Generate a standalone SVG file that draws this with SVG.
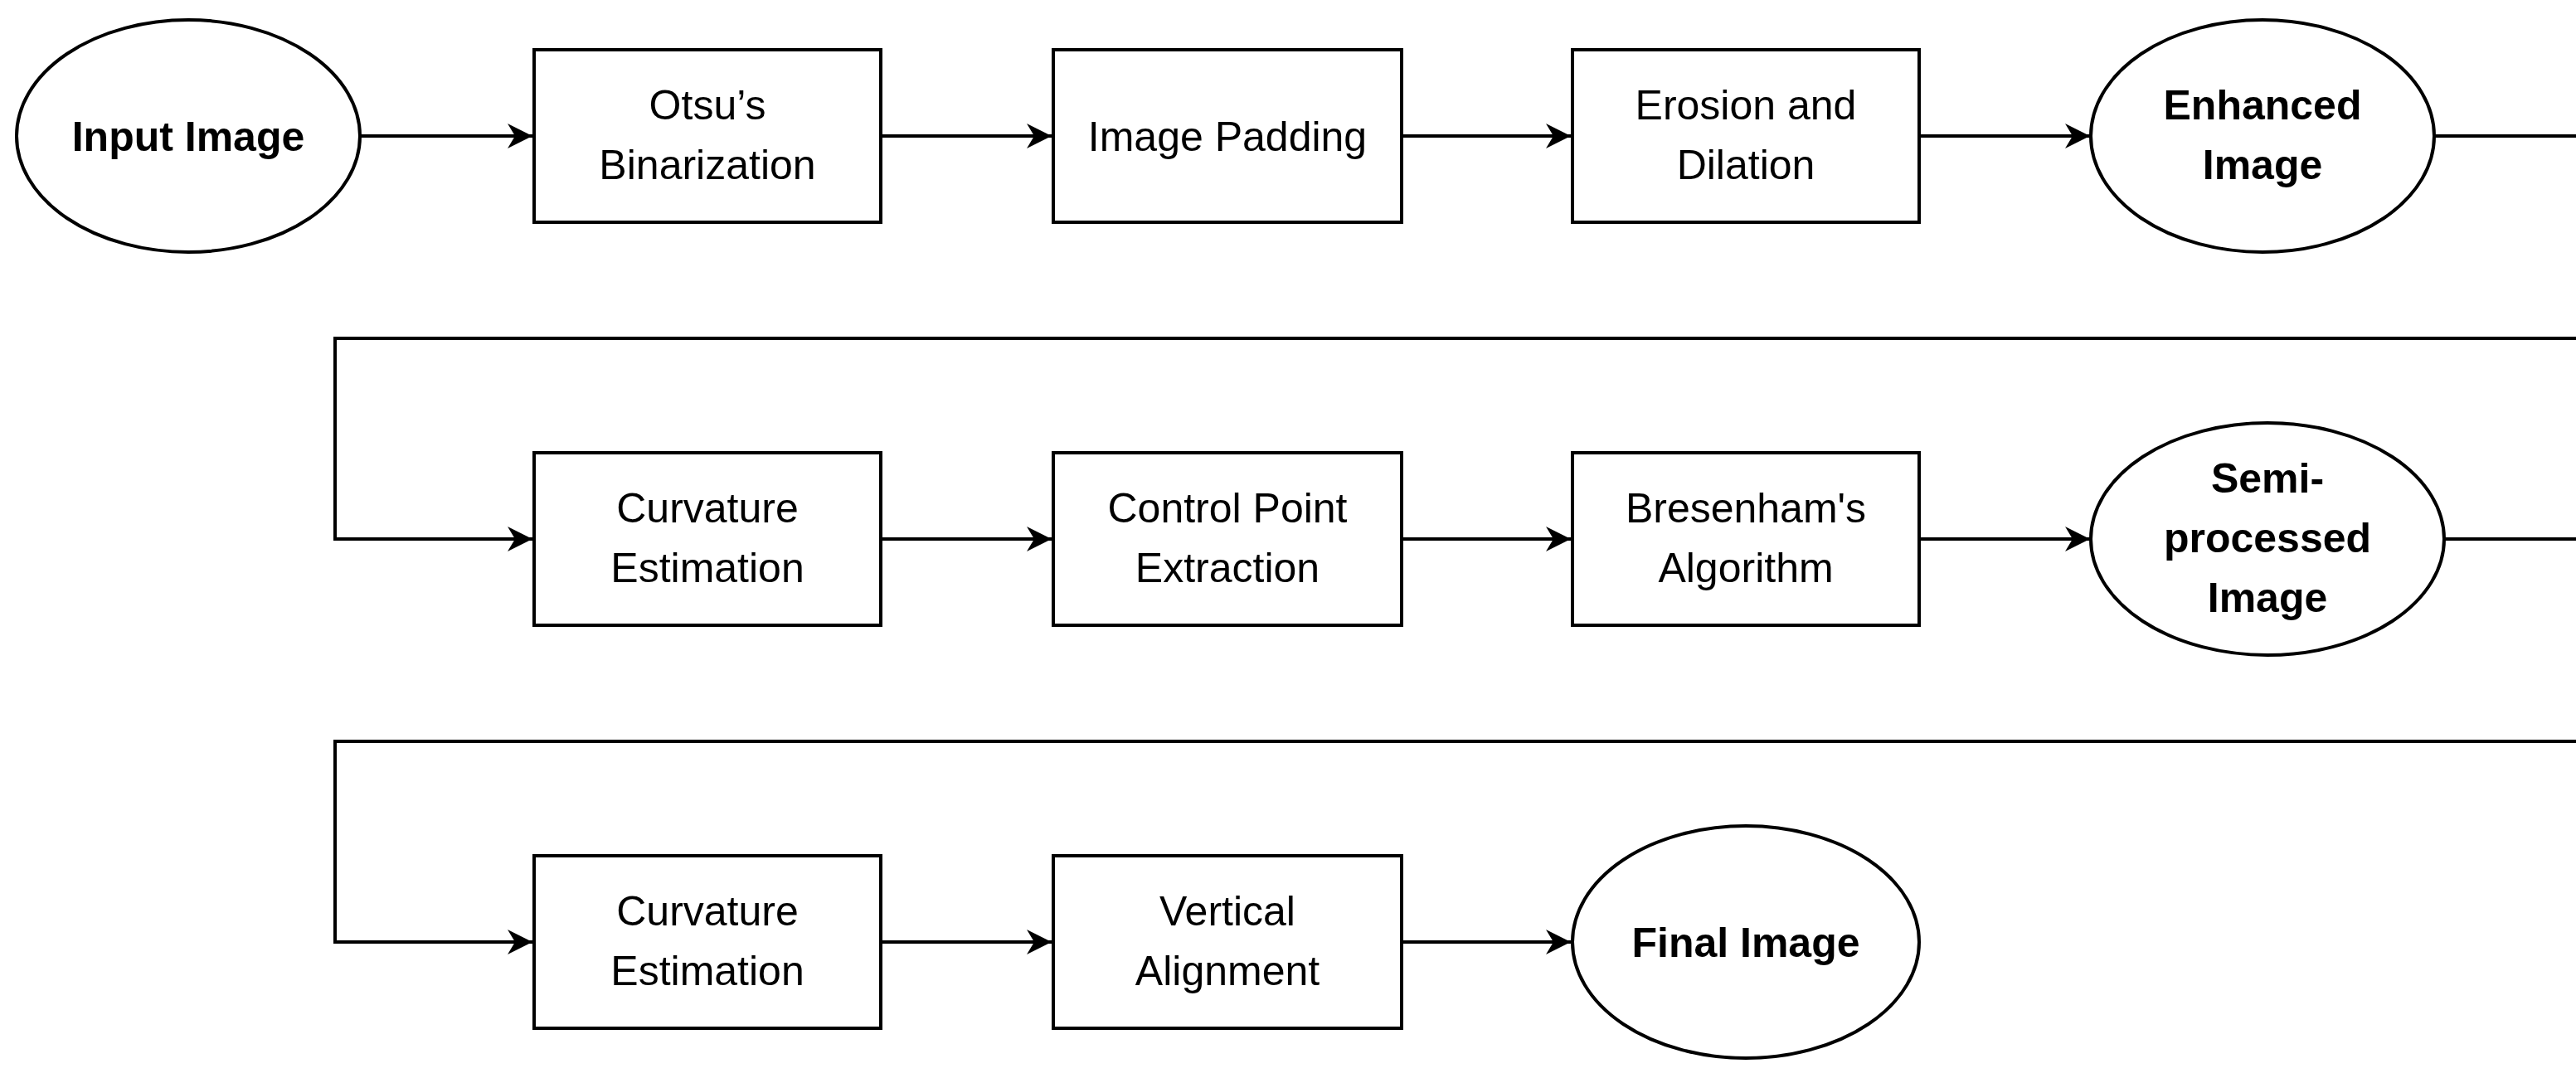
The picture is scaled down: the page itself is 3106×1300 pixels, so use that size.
<svg xmlns="http://www.w3.org/2000/svg" width="3106" height="1300" viewBox="0 0 3106 1300">
<style>
.n{fill:#fff;stroke:#000;stroke-width:4}
.t{font-family:"Liberation Sans",Arial,sans-serif;font-size:50px;text-anchor:middle;fill:#000}
.b{font-weight:bold}
.c{fill:none;stroke:#000;stroke-width:4;marker-end:url(#a)}
</style>
<defs><marker id="a" markerWidth="10" markerHeight="10" refX="9" refY="5" orient="auto" markerUnits="userSpaceOnUse" viewBox="0 0 10 10"><path d="M0,0L10,5L0,10L2.5,5z" fill="#000" transform="scale(1)"/></marker>
<marker id="m" viewBox="0 0 10 10" refX="10" refY="5" markerWidth="30" markerHeight="30" markerUnits="userSpaceOnUse" orient="auto"><path d="M0,0L10,5L0,10L3,5z" fill="#000"/></marker></defs>
<style>.c{marker-end:url(#m)}</style>
<g id="connectors">
<path class="c" d="M434,164H642"/>
<path class="c" d="M1062,164H1268"/>
<path class="c" d="M1690,164H1894"/>
<path class="c" d="M2314,164H2520"/>
<path class="c" d="M2936,164H3110V408H404V650H642"/>
<path class="c" d="M1062,650H1268"/>
<path class="c" d="M1690,650H1894"/>
<path class="c" d="M2314,650H2520"/>
<path class="c" d="M2948,650H3110V894H404V1136H642"/>
<path class="c" d="M1062,1136H1268"/>
<path class="c" d="M1690,1136H1894"/>
</g>
<g id="n1"><ellipse class="n" cx="227" cy="164" rx="207" ry="140"/><text class="t b" x="227" y="182">Input Image</text></g>
<g id="n2"><rect class="n" x="644" y="60" width="418" height="208"/><text class="t" x="853" y="144">Otsu’s</text><text class="t" x="853" y="216">Binarization</text></g>
<g id="n3"><rect class="n" x="1270" y="60" width="420" height="208"/><text class="t" x="1480" y="182">Image Padding</text></g>
<g id="n4"><rect class="n" x="1896" y="60" width="418" height="208"/><text class="t" x="2105" y="144">Erosion and</text><text class="t" x="2105" y="216">Dilation</text></g>
<g id="n5"><ellipse class="n" cx="2728" cy="164" rx="207" ry="140"/><text class="t b" x="2728" y="144">Enhanced</text><text class="t b" x="2728" y="216">Image</text></g>
<g id="n6"><rect class="n" x="644" y="546" width="418" height="208"/><text class="t" x="853" y="630">Curvature</text><text class="t" x="853" y="702">Estimation</text></g>
<g id="n7"><rect class="n" x="1270" y="546" width="420" height="208"/><text class="t" x="1480" y="630">Control Point</text><text class="t" x="1480" y="702">Extraction</text></g>
<g id="n8"><rect class="n" x="1896" y="546" width="418" height="208"/><text class="t" x="2105" y="630">Bresenham's</text><text class="t" x="2105" y="702">Algorithm</text></g>
<g id="n9"><ellipse class="n" cx="2734" cy="650" rx="213" ry="140"/><text class="t b" x="2734" y="594">Semi-</text><text class="t b" x="2734" y="666">processed</text><text class="t b" x="2734" y="738">Image</text></g>
<g id="n10"><rect class="n" x="644" y="1032" width="418" height="208"/><text class="t" x="853" y="1116">Curvature</text><text class="t" x="853" y="1188">Estimation</text></g>
<g id="n11"><rect class="n" x="1270" y="1032" width="420" height="208"/><text class="t" x="1480" y="1116">Vertical</text><text class="t" x="1480" y="1188">Alignment</text></g>
<g id="n12"><ellipse class="n" cx="2105" cy="1136" rx="209" ry="140"/><text class="t b" x="2105" y="1154">Final Image</text></g>
</svg>
